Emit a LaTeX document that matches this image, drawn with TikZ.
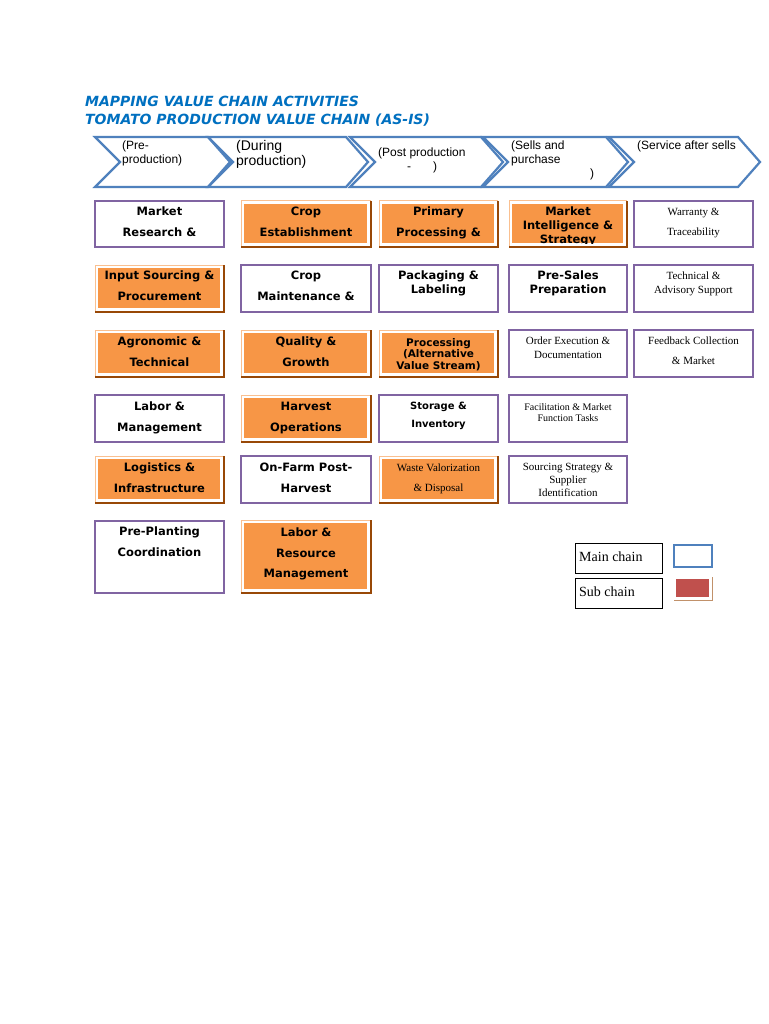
\documentclass[tikz,border=0pt]{standalone}
\usepackage{fontspec}
\setmainfont{Liberation Serif}
\setsansfont{DejaVu Sans}
\newfontfamily\narrowf{Liberation Sans}
\definecolor{cblue}{HTML}{4F81BD}
\definecolor{cpurp}{HTML}{8064A2}
\definecolor{corng}{HTML}{F79646}
\definecolor{cbrown}{HTML}{984807}
\definecolor{cpeach}{HTML}{FAC090}
\definecolor{cred}{HTML}{C0504D}
\definecolor{ttl}{HTML}{0070C0}
\tikzset{
 chev/.style={draw=cblue,line width=2.2pt,fill=white,line join=miter},
 pbox/.style={draw=cpurp,line width=2.6pt,fill=white},
 oin/.style={fill=corng},
 txt/.style={anchor=north,align=center,inner sep=0pt},
 sansb/.style={font=\sffamily\bfseries\fontsize{11.5}{20.5}\selectfont},
 serf/.style={font=\rmfamily\fontsize{11.5}{19}\selectfont},
 chevt/.style={anchor=north west,align=left,inner sep=0pt,font=\narrowf\fontsize{12}{14}\selectfont}
}
% purple box: name, x1,y1,x2,y2, text, style, text top offset
\newcommand\PBx[8]{%
 \draw[pbox] (#2,#3) rectangle (#4,#5);
 \begin{scope}\clip (#2+2,#3+2) rectangle (#4-2,#5-2);
 \node[txt,#7] (#1) at ({(#2+#4)/2},#3+#8) {#6};
 \end{scope}}
\newcommand\OBx[8]{%
 \fill[white] (#2,#3) rectangle (#4,#5);
 \draw[cpeach,line width=1pt] (#2,#5) -- (#2,#3) -- (#4,#3);
 \draw[cbrown,line width=2pt] (#2,#5) -- (#4,#5) -- (#4,#3);
 \fill[oin] (#2+3,#3+3) rectangle (#4-4,#5-4);
 \begin{scope}\clip (#2+3,#3+3) rectangle (#4-4,#5-4);
 \node[txt,#7] (#1) at ({(#2+#4)/2},#3+#8) {#6};
 \end{scope}}
\newcommand\CHx[4]{% name x1 x2 label-pos
 \draw[chev] (#2,137) -- (#3-22,137) -- (#3,162) -- (#3-22,187) -- (#2,187) -- (#2+25,162) -- cycle;
 \coordinate (#1) at (#2,137);}
\begin{document}
\begin{tikzpicture}[x=1pt,y=-1pt]
\useasboundingbox (0,0) rectangle (768,1024);
\fill[white] (0,0) rectangle (768,1024);
\node[anchor=west,inner sep=0pt,text=ttl,font=\sffamily\bfseries\itshape\fontsize{14}{16}\selectfont] (t1) at (85,101) {MAPPING VALUE CHAIN ACTIVITIES};
\node[anchor=west,inner sep=0pt,text=ttl,font=\sffamily\bfseries\itshape\fontsize{14}{16}\selectfont] (t2) at (85,120) {TOMATO PRODUCTION VALUE CHAIN (AS-IS)};
% chevrons
\CHx{c1}{95}{230}{}
\CHx{c2}{208}{368}{}
\CHx{c3}{350}{503}{}
\CHx{c4}{483}{628}{}
\CHx{c5}{609}{760}{}
\node[chevt] (l1) at (122,141) {(Pre-\\production)};
\node[chevt,font=\narrowf\fontsize{14}{15}\selectfont] (l2) at (236,140) {(During\\production)};
\node[chevt] (l3) at (378,148) {(Post production};
\node[chevt] (l3b) at (407,162) {-\hspace{22pt})};
\node[chevt] (l4) at (511,141) {(Sells and\\purchase};
\node[chevt] (l4b) at (590,169) {)};
\node[chevt] (l5) at (637,141) {(Service after sells};
% row 1
\PBx{a1}{95}{201}{224}{247}{Market\\Research \&}{sansb}{6}
\OBx{b1}{241}{201}{371}{247}{Crop\\Establishment}{sansb}{6}
\OBx{c1}{379}{201}{498}{247}{Primary\\Processing \&}{sansb}{6}
\OBx{d1}{509}{201}{627}{247}{Market\\Intelligence \&\\Strategy}{sansb,font=\sffamily\bfseries\fontsize{11.5}{14}\selectfont}{6}
\PBx{e1}{634}{201}{753}{247}{Warranty \&\\Traceability}{serf,font=\rmfamily\fontsize{11}{20}\selectfont}{7}
% row 2
\OBx{a2}{95}{265}{224}{312}{Input Sourcing \&\\Procurement}{sansb}{6}
\PBx{b2}{241}{265}{371}{312}{Crop\\Maintenance \&}{sansb}{6}
\PBx{c2}{379}{265}{498}{312}{Packaging \&\\Labeling}{sansb,font=\sffamily\bfseries\fontsize{11.5}{14}\selectfont}{6}
\PBx{d2}{509}{265}{627}{312}{Pre-Sales\\Preparation}{sansb,font=\sffamily\bfseries\fontsize{11.5}{14}\selectfont}{6}
\PBx{e2}{634}{265}{753}{312}{Technical \&\\Advisory Support}{serf,font=\rmfamily\fontsize{11}{14}\selectfont}{7}
% row 3
\OBx{a3}{95}{330}{224}{377}{Agronomic \&\\Technical}{sansb}{7}
\OBx{b3}{241}{330}{371}{377}{Quality \&\\Growth}{sansb}{7}
\OBx{c3}{379}{330}{498}{377}{Processing\\(Alternative\\Value Stream)}{font=\sffamily\bfseries\fontsize{10.5}{11.5}\selectfont}{8}
\PBx{d3}{509}{330}{627}{377}{Order Execution \&\\Documentation}{serf,font=\rmfamily\fontsize{11}{14}\selectfont}{7}
\PBx{e3}{634}{330}{753}{377}{Feedback Collection\\\& Market}{serf,font=\rmfamily\fontsize{11}{20}\selectfont}{7}
% row 4
\PBx{a4}{95}{395}{224}{442}{Labor \&\\Management}{sansb}{7}
\OBx{b4}{241}{395}{371}{442}{Harvest\\Operations}{sansb}{7}
\PBx{c4}{379}{395}{498}{442}{Storage \&\\Inventory}{font=\sffamily\bfseries\fontsize{10}{18}\selectfont}{7}
\PBx{d4}{509}{395}{627}{442}{Facilitation \& Market\\Function Tasks}{font=\rmfamily\fontsize{10}{11.5}\selectfont}{8}
% row 5
\OBx{a5}{95}{456}{224}{503}{Logistics \&\\Infrastructure}{sansb}{7}
\PBx{b5}{241}{456}{371}{503}{On-Farm Post-\\Harvest}{sansb}{7}
\OBx{c5}{379}{456}{498}{503}{Waste Valorization\\\& Disposal}{font=\rmfamily\fontsize{11}{20}\selectfont}{8}
\PBx{d5}{509}{456}{627}{503}{Sourcing Strategy \&\\Supplier\\Identification}{font=\rmfamily\fontsize{11}{13}\selectfont}{7}
% row 6
\PBx{a6}{95}{521}{224}{593}{Pre-Planting\\Coordination}{sansb}{6}
\OBx{b6}{241}{520}{371}{593}{Labor \&\\Resource\\Management}{sansb}{8}
% legend
\draw[black,line width=0.8pt] (575,543) rectangle (662,573);
\node[anchor=west,inner sep=0pt,font=\rmfamily\fontsize{14}{16}\selectfont] (m) at (579,557) {Main chain};
\draw[black,line width=0.8pt] (575,578) rectangle (662,608);
\node[anchor=west,inner sep=0pt,font=\rmfamily\fontsize{14}{16}\selectfont] (s) at (579,592) {Sub chain};
\draw[cblue,line width=2.5pt,fill=white] (674,545) rectangle (712,567);
\fill[white] (673,577) rectangle (713,601);
\draw[cbrown!60,line width=1pt] (674,600) -- (712,600) -- (712,577);
\fill[cred] (676,579) rectangle (709,597);
\end{tikzpicture}
\end{document}
